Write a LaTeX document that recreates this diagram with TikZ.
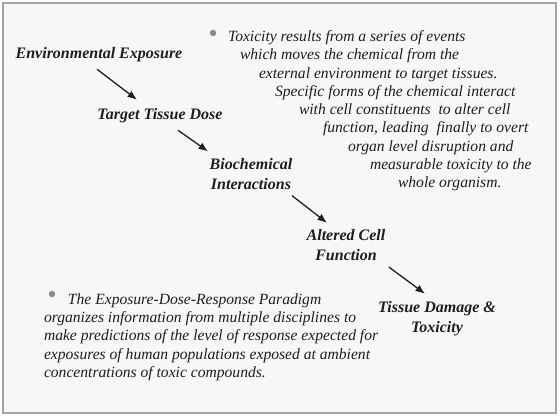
\documentclass[tikz,border=0pt]{standalone}
\usepackage{fontspec}
\setmainfont{Liberation Serif}
\usepackage{xcolor}
\usetikzlibrary{arrows.meta}
\definecolor{framegray}{HTML}{A4A4A4}
\definecolor{paper}{HTML}{F7F7F7}
\definecolor{dotgray}{HTML}{8A8A8A}
\definecolor{ink}{HTML}{1E1E1E}
\tikzset{
    stage-label/.style = {text=ink, font=\fontsize{16}{20}\selectfont\bfseries\itshape, align=center, inner sep=0pt, outer sep=0pt},
    note-text/.style = {text=ink, font=\fontsize{15.6}{18.3}\selectfont\itshape, align=left, inner sep=0pt, outer sep=0pt},
    note-dot/.style = {circle, fill=dotgray, inner sep=0pt, minimum size=6.5pt},
    stage-arrow/.style = {-{Latex[length=9.5pt,width=7.5pt]}, line width=1.3pt, draw=ink},
}

\begin{document}
\begin{tikzpicture}[x=1pt,y=-1pt]
\useasboundingbox (0,0) rectangle (560,417);
\draw[framegray, fill=paper, line width=1.4pt] (3,3) rectangle (556,413);

\node[stage-label] (exposure) at (99,55) {Environmental Exposure};
\node[stage-label] (dose) at (160,116) {Target Tissue Dose};
\node[stage-label] (interact) at (251,174) {Biochemical\\Interactions};
\node[stage-label] (cell) at (346,245.5) {Altered Cell\\Function};
\node[stage-label] (damage) at (437,319) {Tissue Damage \&\\Toxicity};

\draw[stage-arrow] ([xshift=-2pt,yshift=-7pt]exposure.south) -- ([xshift=-23pt,yshift=9pt]dose.north);
\draw[stage-arrow] ([xshift=18pt,yshift=-7pt]dose.south) -- ([xshift=-43pt,yshift=7pt]interact.north);
\draw[stage-arrow] ([xshift=41pt,yshift=-6pt]interact.south) -- ([xshift=-19pt,yshift=7pt]cell.north);
\draw[stage-arrow] ([xshift=43pt,yshift=-6pt]cell.south) -- ([xshift=-12pt,yshift=8pt]damage.north);

\node[note-dot] (dot-events) at (213,33) {};
\node[note-text, anchor=north west] (events) at (228,30.5) {Toxicity results from a series of events\\
\hspace*{12pt}which moves the chemical from the\\
\hspace*{31pt}external environment to target tissues.\\
\hspace*{47pt}Specific forms of the chemical interact\\
\hspace*{71pt}with cell constituents\ \ to alter cell\\
\hspace*{95pt}function, leading\ \ finally to overt\\
\hspace*{120pt}organ level disruption and\\
\hspace*{142pt}measurable toxicity to the\\
\hspace*{170pt}whole organism.};

\node[note-dot] (dot-paradigm) at (52,294) {};
\node[note-text, anchor=north west] (paradigm) at (44,293.5) {\hspace*{24pt}The Exposure-Dose-Response Paradigm\\
organizes information from multiple disciplines to\\
make predictions of the level of response expected for\\
exposures of human populations exposed at ambient\\
concentrations of toxic compounds.};
\end{tikzpicture}
\end{document}
